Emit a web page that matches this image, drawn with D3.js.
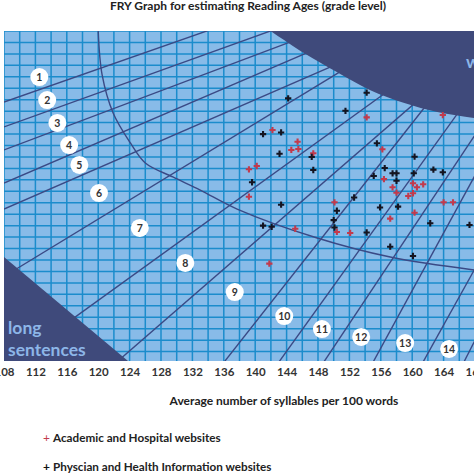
<!DOCTYPE html>
<html>
<head>
<meta charset="utf-8">
<script src="https://cdnjs.cloudflare.com/ajax/libs/d3/7.8.5/d3.min.js"></script>
<style>
  body { margin: 0; background: #fff; }
  svg { display: block; font-family: Lato, "Open Sans", sans-serif; }
</style>
</head>
<body>
<svg></svg>
<script>
// x: average syllables per 100 words, y: grid row of the Fry graph (0 = top row)
const xTicks = [108, 112, 116, 120, 124, 128, 132, 136, 140, 144, 148, 152, 156, 160, 164, 168];

// [syllables, row]
const academic = [
  [163.9, 7.34], [154.2, 7.54], [142.2, 8.65], [145.4, 9.67], [144.6, 10.39], [145.5, 10.31],
  [147.4, 10.68], [156.2, 10.33], [139.2, 12.08], [140.2, 11.79], [139.2, 14.47], [150.1, 14.96],
  [150.4, 17.55], [145.1, 17.27], [152.1, 17.64], [141.8, 20.32], [156.4, 12.94], [157.5, 13.65],
  [158.0, 14.12], [160.1, 13.30], [160.6, 13.65], [161.4, 13.39], [160.1, 14.17], [159.5, 14.41],
  [164.0, 14.96], [165.2, 14.96], [160.3, 15.87], [157.2, 16.39]
];
const physician = [
  [144.2, 5.88], [154.2, 5.39], [151.5, 6.97], [141.0, 9.01], [143.3, 8.86], [143.1, 10.72],
  [147.2, 11.00], [155.5, 9.81], [160.3, 10.98], [147.4, 12.14], [139.6, 13.21], [143.3, 15.17],
  [152.6, 14.54], [150.4, 15.70], [150.0, 16.52], [150.1, 17.16], [141.0, 17.00], [142.1, 17.10],
  [154.2, 17.60], [155.1, 12.66], [155.9, 15.41], [156.5, 11.97], [157.5, 12.43], [158.0, 12.43],
  [160.2, 12.43], [162.7, 12.11], [163.9, 12.34], [158.0, 13.08], [158.2, 15.34], [162.3, 16.79],
  [167.3, 16.94], [157.2, 18.84], [160.1, 19.65]
];

const gradeNames = ['1', '2', '3', '4', '5', '6', '7', '8', '9', '10', '11', '12', '13', '14'];
const gradeSyl = [112.5, 113.5, 114.8, 116.3, 117.6, 120.1, 125.3, 131.1, 137.4, 143.7, 148.5, 153.5, 159.1, 164.7];
const gradeRow = [4.02, 6.03, 8.03, 9.96, 11.70, 14.15, 17.2, 20.26, 22.8, 24.9, 26.03, 26.72, 27.25, 27.77];

// grade boundary lines, two ends each
const gradeLines = [
  [[108, 6.20], [134.2, -0.09]],
  [[108, 8.38], [142.3, -0.09]],
  [[108, 10.39], [148.3, -0.03]],
  [[108, 13.28], [150.8, 0.66]],
  [[108, 15.55], [155.9, 1.26]],
  [[108, 21.44], [153.4, 2.48]],
  [[112.6, 27.2], [162.3, 2.58]],
  [[120.2, 30.2], [167.9, 1.8]],
  [[135.6, 29.3], [164.8, 3.86]],
  [[142.65, 29.26], [167.9, 5.18]],
  [[148.4, 29.26], [171.2, 5.8]],
  [[154.75, 29.26], [171.2, 8.6]],
  [[161.1, 29.26], [171.2, 16.8]],
  [[166.3, 29.3], [171.2, 22.7]]
];

const arcSyl = [120.0, 120.5, 121.9, 124.1, 126.0, 129.5, 133.0, 137.7, 147.9, 157.2, 167.9];
const arcRow = [0, 3.84, 7.16, 9.78, 11.53, 12.75, 13.89, 15.55, 18.08, 19.74, 20.87];

// dark zones
const upperZone = [[141.4, -0.26], [146.2, 1.92], [150.4, 3.58], [154.6, 5.15], [159.0, 6.29], [163.2, 7.07], [167.9, 7.6], [171.2, 7.9]];
const lowerZone = [[108, 19.74], [124.56, 29.26], [108, 29.26]];

const width = 474;
const height = 474;
const plotLeft = 4, plotTop = 31, plotRight = 474, plotBottom = 361;

const svg = d3.select('svg').attr('width', width).attr('height', height);

const x = d3.scaleLinear().domain([108, 168]).range([4, 4 + 60 * 7.85]);
const y = d3.scaleLinear().domain([0, 29]).range([31, 31 + 29 * 11.45]);

svg.append('defs').append('clipPath').attr('id', 'plot')
  .append('rect').attr('x', plotLeft).attr('y', plotTop)
  .attr('width', plotRight - plotLeft).attr('height', plotBottom - plotTop);

const plot = svg.append('g').attr('clip-path', 'url(#plot)');

plot.append('rect')
  .attr('x', plotLeft).attr('y', plotTop)
  .attr('width', plotRight - plotLeft).attr('height', plotBottom - plotTop)
  .attr('fill', '#88bbe8');

plot.append('g').selectAll('line')
  .data(x.ticks(30))
  .enter().append('line')
  .attr('x1', d => x(d)).attr('x2', d => x(d))
  .attr('y1', plotTop).attr('y2', plotBottom)
  .attr('stroke', '#1b8ccc').attr('stroke-width', 1.5);

plot.append('g').selectAll('line')
  .data(y.ticks(29))
  .enter().append('line')
  .attr('x1', plotLeft).attr('x2', plotRight)
  .attr('y1', d => y(d)).attr('y2', d => y(d))
  .attr('stroke', '#1b8ccc').attr('stroke-width', 1.5);

const line = d3.line().x(d => x(d[0])).y(d => y(d[1]));

plot.append('g').selectAll('path')
  .data(gradeLines)
  .enter().append('path')
  .attr('d', line)
  .attr('fill', 'none')
  .attr('stroke', '#3a4a86').attr('stroke-width', 1.4);

const arcLine = d3.line().x(d => x(d[0])).y(d => y(d[1])).curve(d3.curveCatmullRom);
plot.append('path')
  .attr('d', arcLine(arcSyl.map((s, i) => [s, arcRow[i]])))
  .attr('fill', 'none')
  .attr('stroke', '#3a4a86').attr('stroke-width', 1.4);

plot.append('path')
  .attr('d', d3.area().x(d => x(d[0])).y0(y(-2)).y1(d => y(d[1])).curve(d3.curveCatmullRom)(upperZone))
  .attr('fill', '#3f4a7b');

plot.append('path')
  .attr('d', line(lowerZone) + 'Z')
  .attr('fill', '#3f4a7b');

plot.append('text')
  .attr('x', 8).attr('y', 334)
  .attr('fill', '#8db6e8').attr('font-size', 17.5).attr('font-weight', 'bold')
  .text('long');
plot.append('text')
  .attr('x', 8).attr('y', 356)
  .attr('fill', '#8db6e8').attr('font-size', 17.5).attr('font-weight', 'bold')
  .text('sentences');
plot.append('text')
  .attr('x', 466).attr('y', 68)
  .attr('fill', '#8db6e8').attr('font-size', 17.5).attr('font-weight', 'bold')
  .text('words');

const cross = d3.symbol().type(d3.symbolCross).size(22);

plot.append('g').selectAll('path')
  .data(academic)
  .enter().append('path')
  .attr('d', cross)
  .attr('transform', d => 'translate(' + x(d[0]) + ',' + y(d[1]) + ')')
  .attr('fill', '#c23a4c');

plot.append('g').selectAll('path')
  .data(physician)
  .enter().append('path')
  .attr('d', cross)
  .attr('transform', d => 'translate(' + x(d[0]) + ',' + y(d[1]) + ')')
  .attr('fill', '#141420');

const grades = plot.append('g').selectAll('g')
  .data(gradeNames)
  .enter().append('g')
  .attr('transform', (d, i) => 'translate(' + x(gradeSyl[i]) + ',' + y(gradeRow[i]) + ')');
grades.append('circle').attr('r', 9).attr('fill', '#fff');
grades.append('text')
  .attr('text-anchor', 'middle').attr('dy', '0.36em')
  .attr('font-size', 10.5).attr('font-weight', 'bold').attr('fill', '#333')
  .text(d => d);

// x axis, labels only
const xAxis = d3.axisBottom(x).tickValues(xTicks).tickSize(0).tickPadding(7);
const gx = svg.append('g')
  .attr('transform', 'translate(0,' + plotBottom + ')')
  .call(xAxis);
gx.select('.domain').remove();
gx.selectAll('text')
  .attr('font-family', 'Lato, sans-serif')
  .attr('font-size', 11.5).attr('font-weight', 'bold').attr('fill', '#333');

svg.append('text')
  .attr('x', 248).attr('y', 10)
  .attr('text-anchor', 'middle')
  .attr('font-size', 12).attr('font-weight', 'bold').attr('fill', '#222')
  .text('FRY Graph for estimating Reading Ages (grade level)');

svg.append('text')
  .attr('x', 284).attr('y', 405)
  .attr('text-anchor', 'middle')
  .attr('font-size', 12).attr('font-weight', 'bold').attr('fill', '#222')
  .text('Average number of syllables per 100 words');

const legend = [
  ['Academic and Hospital websites', '#c23a4c', 'normal'],
  ['Physcian and Health Information websites', '#111', 'bold']
];
const lg = svg.append('g').selectAll('g')
  .data(legend)
  .enter().append('g')
  .attr('transform', (d, i) => 'translate(43,' + (442 + i * 28.5) + ')');
lg.append('text')
  .attr('font-size', 12).attr('font-weight', d => d[2]).attr('fill', d => d[1])
  .text('+');
lg.append('text')
  .attr('x', 10)
  .attr('font-size', 11.7).attr('font-weight', 'bold').attr('fill', '#222')
  .text(d => d[0]);
</script>
</body>
</html>
